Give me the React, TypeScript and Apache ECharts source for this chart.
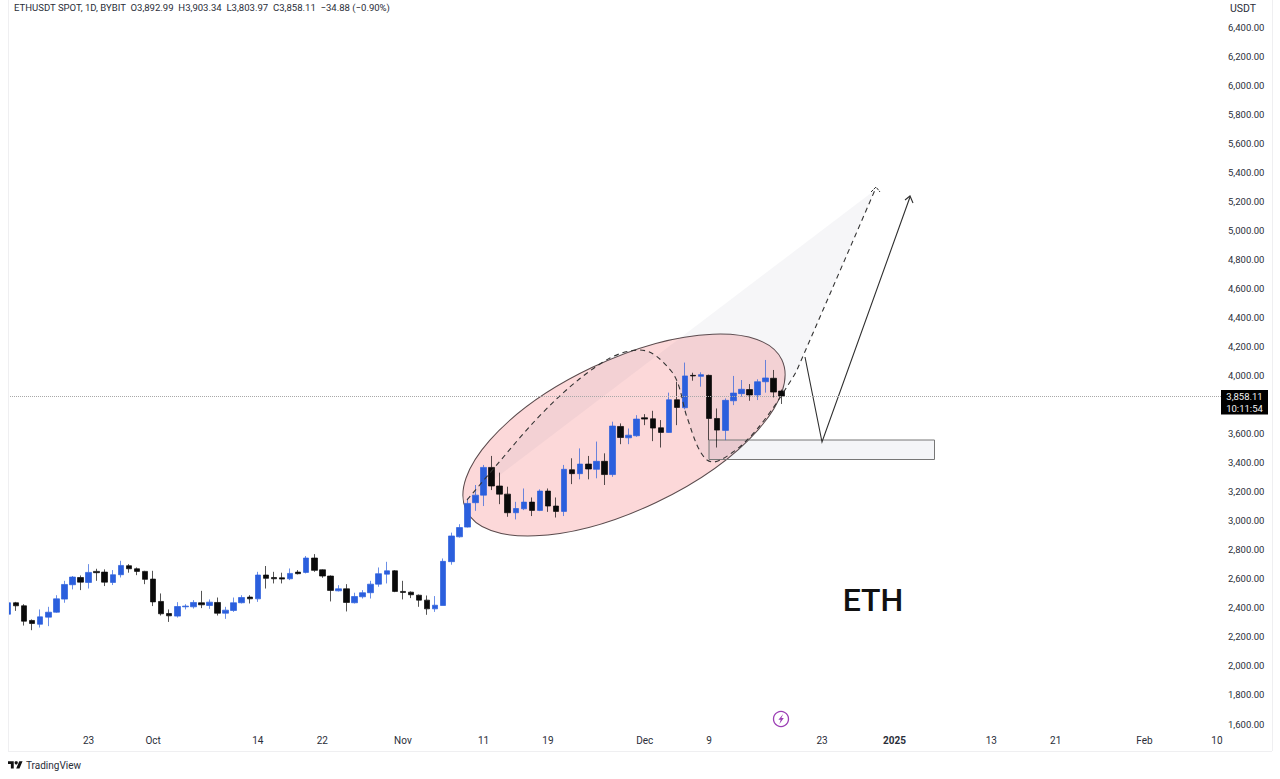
import React, { useEffect, useRef } from "react";
import * as echarts from "echarts";

const startDate = Date.UTC(2024, 8, 13);
const dayCount = 152;
const categories: string[] = Array.from({ length: dayCount }, (_, i) =>
  new Date(startDate + i * 86400000).toISOString().slice(0, 10)
);

const tickLabels: Record<string, string> = {
  "2024-09-23": "23",
  "2024-10-01": "Oct",
  "2024-10-14": "14",
  "2024-10-22": "22",
  "2024-11-01": "Nov",
  "2024-11-11": "11",
  "2024-11-19": "19",
  "2024-12-01": "Dec",
  "2024-12-09": "9",
  "2024-12-23": "23",
  "2025-01-01": "2025",
  "2025-01-13": "13",
  "2025-01-21": "21",
  "2025-02-01": "Feb",
  "2025-02-10": "10",
};

const opens = [
  2356, 2435, 2414, 2313, 2287, 2336, 2370, 2460, 2559, 2609,
  2575, 2651, 2646, 2575, 2628, 2690, 2669, 2651, 2598, 2444,
  2361, 2343, 2407, 2407, 2435, 2416, 2437, 2363, 2382, 2435,
  2474, 2462, 2626, 2609, 2607, 2600, 2646, 2644, 2743, 2662,
  2619, 2517, 2531, 2435, 2476, 2504, 2563, 2632, 2655, 2513,
  2508, 2487, 2453, 2393, 2416, 2718, 2889, 2956, 3124, 3176,
  3367, 3239, 3183, 3055, 3082, 3128, 3071, 3204, 3101, 3064,
  3351, 3324, 3390, 3354, 3409, 3318, 3649, 3571, 3585, 3709,
  3702, 3640, 3608, 3833, 3778, 4001, 3994, 4001, 3704, 3622,
  3826, 3875, 3903, 3866, 3957, 3981, 3892.99,
];
const closes = [
  2435, 2414, 2308, 2292, 2338, 2370, 2462, 2561, 2612, 2577,
  2644, 2642, 2577, 2628, 2692, 2669, 2651, 2596, 2441, 2359,
  2345, 2409, 2412, 2437, 2421, 2439, 2363, 2384, 2435, 2471,
  2462, 2626, 2603, 2600, 2598, 2637, 2635, 2743, 2658, 2619,
  2520, 2531, 2437, 2478, 2504, 2563, 2635, 2655, 2513, 2506,
  2490, 2453, 2393, 2418, 2720, 2895, 2953, 3119, 3176, 3367,
  3239, 3183, 3055, 3084, 3128, 3071, 3204, 3101, 3064, 3354,
  3324, 3390, 3356, 3409, 3318, 3652, 3573, 3589, 3700, 3700,
  3638, 3608, 3833, 3780, 3997, 3997, 4006, 3704, 3624, 3829,
  3879, 3905, 3866, 3957, 3983, 3886, 3858.11,
];
const lows = [
  2333, 2379, 2278, 2246, 2264, 2274, 2366, 2435, 2527, 2522,
  2533, 2586, 2550, 2557, 2609, 2642, 2625, 2563, 2412, 2347,
  2303, 2333, 2389, 2395, 2398, 2393, 2347, 2324, 2372, 2430,
  2430, 2441, 2533, 2568, 2568, 2591, 2630, 2637, 2648, 2607,
  2444, 2513, 2375, 2430, 2464, 2464, 2545, 2568, 2508, 2458,
  2467, 2407, 2352, 2372, 2416, 2697, 2884, 2953, 3068, 3101,
  3211, 3114, 3027, 3009, 3073, 3032, 3066, 3061, 3022, 3032,
  3252, 3285, 3285, 3292, 3246, 3302, 3527, 3527, 3578, 3658,
  3548, 3504, 3606, 3658, 3767, 3964, 3923, 3555, 3504, 3555,
  3796, 3854, 3826, 3831, 3882, 3849, 3803.97,
];
const highs = [
  2464, 2441, 2425, 2320, 2389, 2407, 2487, 2586, 2619, 2623,
  2701, 2669, 2665, 2660, 2724, 2701, 2678, 2655, 2655, 2499,
  2389, 2439, 2425, 2453, 2517, 2458, 2471, 2407, 2471, 2487,
  2487, 2648, 2688, 2648, 2642, 2671, 2660, 2757, 2770, 2665,
  2623, 2556, 2563, 2504, 2522, 2586, 2678, 2717, 2660, 2586,
  2513, 2492, 2485, 2481, 2740, 2918, 2976, 3153, 3246, 3384,
  3446, 3331, 3234, 3130, 3222, 3160, 3216, 3222, 3160, 3384,
  3430, 3498, 3446, 3545, 3464, 3682, 3670, 3635, 3727, 3734,
  3757, 3693, 3882, 3957, 4089, 4019, 4022, 4006, 3773, 3842,
  3997, 3969, 3941, 3974, 4107, 4038, 3903.34,
];
const lastPrice = 3858.11;

const UP = "#2B5FDD";
const DOWN = "#0A0A0A";
const TEXT = "#2A2E39";
const FONT = "Roboto, 'Open Sans', sans-serif";

const curve =
  "M467 500 L517 441 C545 408 575 380 600 364 C615 354 628 350 640 350 C652 350 662 360 672 372 C682 386 682 405 688 420 C694 438 698 452 707 460 C714 465 722 460 733 452 C748 442 766 420 783 393 C790 382 794 376 797 370 L875 190";
const logoPath = "M14 22H7V11H0V4h14v18zM28 22h-8l7.5-18h8L28 22z";
const boltPath = "M2.2 -5 L-2.6 0.8 L-0.3 0.8 L-1.6 5 L2.8 -0.9 L0.4 -0.9 Z";

echarts.graphic.registerShape("tvCurveFill", echarts.graphic.extendPath(curve + " Z", {}));
echarts.graphic.registerShape("tvCurve", echarts.graphic.extendPath(curve, {}));
echarts.graphic.registerShape("tvLogo", echarts.graphic.extendPath(logoPath, {}));
echarts.graphic.registerShape("tvBolt", echarts.graphic.extendPath(boltPath, {}));

export default function App() {
  const ref = useRef<HTMLDivElement>(null);

  useEffect(() => {
    document.body.style.margin = "0";
    const chart = echarts.init(ref.current!, undefined, { renderer: "svg" });
    const ohlc = opens.map((o, i) => [o, closes[i], lows[i], highs[i]]);

    const border = (x1: number, y1: number, x2: number, y2: number, z = 0) => ({
      type: "line",
      z,
      silent: true,
      shape: { x1, y1, x2, y2 },
      style: { stroke: "#EFEFF1", lineWidth: 1 },
    });
    const txt = (
      text: string,
      x: number,
      y: number,
      fontSize: number,
      fill: string,
      align = "left",
      fontWeight: any = 400,
      z = 6,
      lineHeight?: number
    ) => ({
      type: "text",
      x,
      y,
      z,
      silent: true,
      style: {
        text,
        fill,
        fontSize,
        fontFamily: FONT,
        fontWeight,
        align,
        verticalAlign: "middle",
        lineHeight,
      },
    });

    chart.setOption({
      animation: false,
      backgroundColor: "#FFFFFF",
      grid: { left: 8, right: 55, top: 27, bottom: 55, containLabel: false },
      xAxis: {
        type: "category",
        data: categories,
        boundaryGap: false,
        axisLine: { show: false },
        axisTick: { show: false },
        splitLine: { show: false },
        axisLabel: {
          margin: 11,
          color: TEXT,
          fontSize: 10,
          fontFamily: FONT,
          hideOverlap: false,
          interval: (_: number, value: string) => value in tickLabels,
          formatter: (value: string) => {
            const label = tickLabels[value] ?? "";
            return label === "2025" ? `{y|${label}}` : label;
          },
          rich: { y: { fontWeight: 700, fontSize: 10, color: TEXT, fontFamily: FONT } },
        },
      },
      yAxis: {
        type: "value",
        position: "right",
        min: 1600,
        max: 6400,
        interval: 200,
        axisLine: { show: false },
        axisTick: { show: false },
        splitLine: { show: false },
        axisLabel: {
          margin: 3,
          color: TEXT,
          fontSize: 9.5,
          fontFamily: FONT,
          align: "left",
          showMinLabel: true,
          showMaxLabel: true,
          formatter: (v: number) =>
            v.toLocaleString("en-US", { minimumFractionDigits: 2, maximumFractionDigits: 2 }),
        },
      },
      series: [
        {
          type: "candlestick",
          data: ohlc,
          barWidth: 6,
          clip: true,
          itemStyle: {
            color: UP,
            color0: DOWN,
            borderColor: UP,
            borderColor0: DOWN,
            borderWidth: 0.7,
          },
          markLine: {
            silent: true,
            symbol: "none",
            label: { show: false },
            lineStyle: { color: "#A8A8A8", type: "dotted", width: 1 },
            data: [{ yAxis: lastPrice }],
          },
        },
      ],
      graphic: {
        elements: [
          border(1272.5, 0, 1272.5, 751),
          border(8, 751.5, 1272, 751.5),
          {
            type: "ellipse",
            x: 624,
            y: 435,
            rotation: 0.445,
            z: 0,
            silent: true,
            shape: { cx: 0, cy: 0, rx: 174.8, ry: 74.7 },
            style: { fill: "#FCD8D9", stroke: "#5A4A4C", lineWidth: 1 },
          },
          {
            type: "tvCurveFill",
            x: 0,
            y: 0,
            z: 0,
            silent: true,
            style: { fill: "rgba(120,123,150,0.065)", stroke: "none" },
          },
          {
            type: "rect",
            z: 0,
            silent: true,
            shape: { x: 709, y: 440, width: 225.5, height: 19.5 },
            style: { fill: "rgba(120,123,170,0.08)", stroke: "#777777", lineWidth: 1 },
          },
          {
            type: "tvCurve",
            x: 0,
            y: 0,
            z: 5,
            silent: true,
            style: { fill: "none", stroke: "#333333", lineWidth: 1.1, lineDash: [5, 4] },
          },
          {
            type: "polyline",
            z: 5,
            silent: true,
            shape: { points: [[871, 192], [876, 187], [880, 192]] },
            style: { fill: "none", stroke: "#333333", lineWidth: 1, lineDash: [3, 1] },
          },
          {
            type: "polyline",
            z: 5,
            silent: true,
            shape: { points: [[805, 357], [822, 442], [910, 197]] },
            style: { fill: "none", stroke: "#2F2F2F", lineWidth: 1.1 },
          },
          {
            type: "polyline",
            z: 5,
            silent: true,
            shape: { points: [[905, 200], [910, 196], [913, 203]] },
            style: { fill: "none", stroke: "#2F2F2F", lineWidth: 1.1 },
          },
          {
            type: "rect",
            z: 6,
            silent: true,
            shape: { x: 0, y: 0, width: 8, height: 760 },
            style: { fill: "#FFFFFF" },
          },
          border(8.5, 0, 8.5, 751, 6),
          txt("ETH", 873, 600, 32, "#111111", "center", 500),
          txt(
            "ETHUSDT SPOT, 1D, BYBIT  O3,892.99  H3,903.34  L3,803.97  C3,858.11  −34.88 (−0.90%)",
            14,
            7.5,
            9.55,
            TEXT
          ),
          txt("USDT", 1243, 8, 10.5, TEXT, "center"),
          {
            type: "rect",
            z: 6,
            silent: true,
            shape: { x: 1221, y: 390, width: 47, height: 24.5 },
            style: { fill: "#000000" },
          },
          txt("3,858.11\n10:11:54", 1244.5, 402, 9.5, "#F2F2F2", "center", 400, 7, 12),
          {
            type: "circle",
            z: 6,
            silent: true,
            shape: { cx: 781, cy: 719, r: 7.5 },
            style: { fill: "#FFFFFF", stroke: "#9C3FB5", lineWidth: 1.3 },
          },
          {
            type: "tvBolt",
            x: 781,
            y: 719,
            z: 7,
            silent: true,
            style: { fill: "#9C3FB5", stroke: "none" },
          },
          {
            type: "tvLogo",
            x: 8,
            y: 759.5,
            scaleX: 0.41,
            scaleY: 0.41,
            z: 6,
            silent: true,
            style: { fill: "#111111", stroke: "none" },
          },
          {
            type: "circle",
            z: 6,
            silent: true,
            shape: { cx: 16.2, cy: 762.8, r: 1.65 },
            style: { fill: "#111111" },
          },
          txt("TradingView", 26, 765, 10, TEXT, "left", 400),
        ],
      },
    });

    return () => chart.dispose();
  }, []);

  return (
    <div
      ref={ref}
      style={{ position: "fixed", left: 0, top: 0, width: 1280, height: 779, background: "#fff" }}
    />
  );
}
